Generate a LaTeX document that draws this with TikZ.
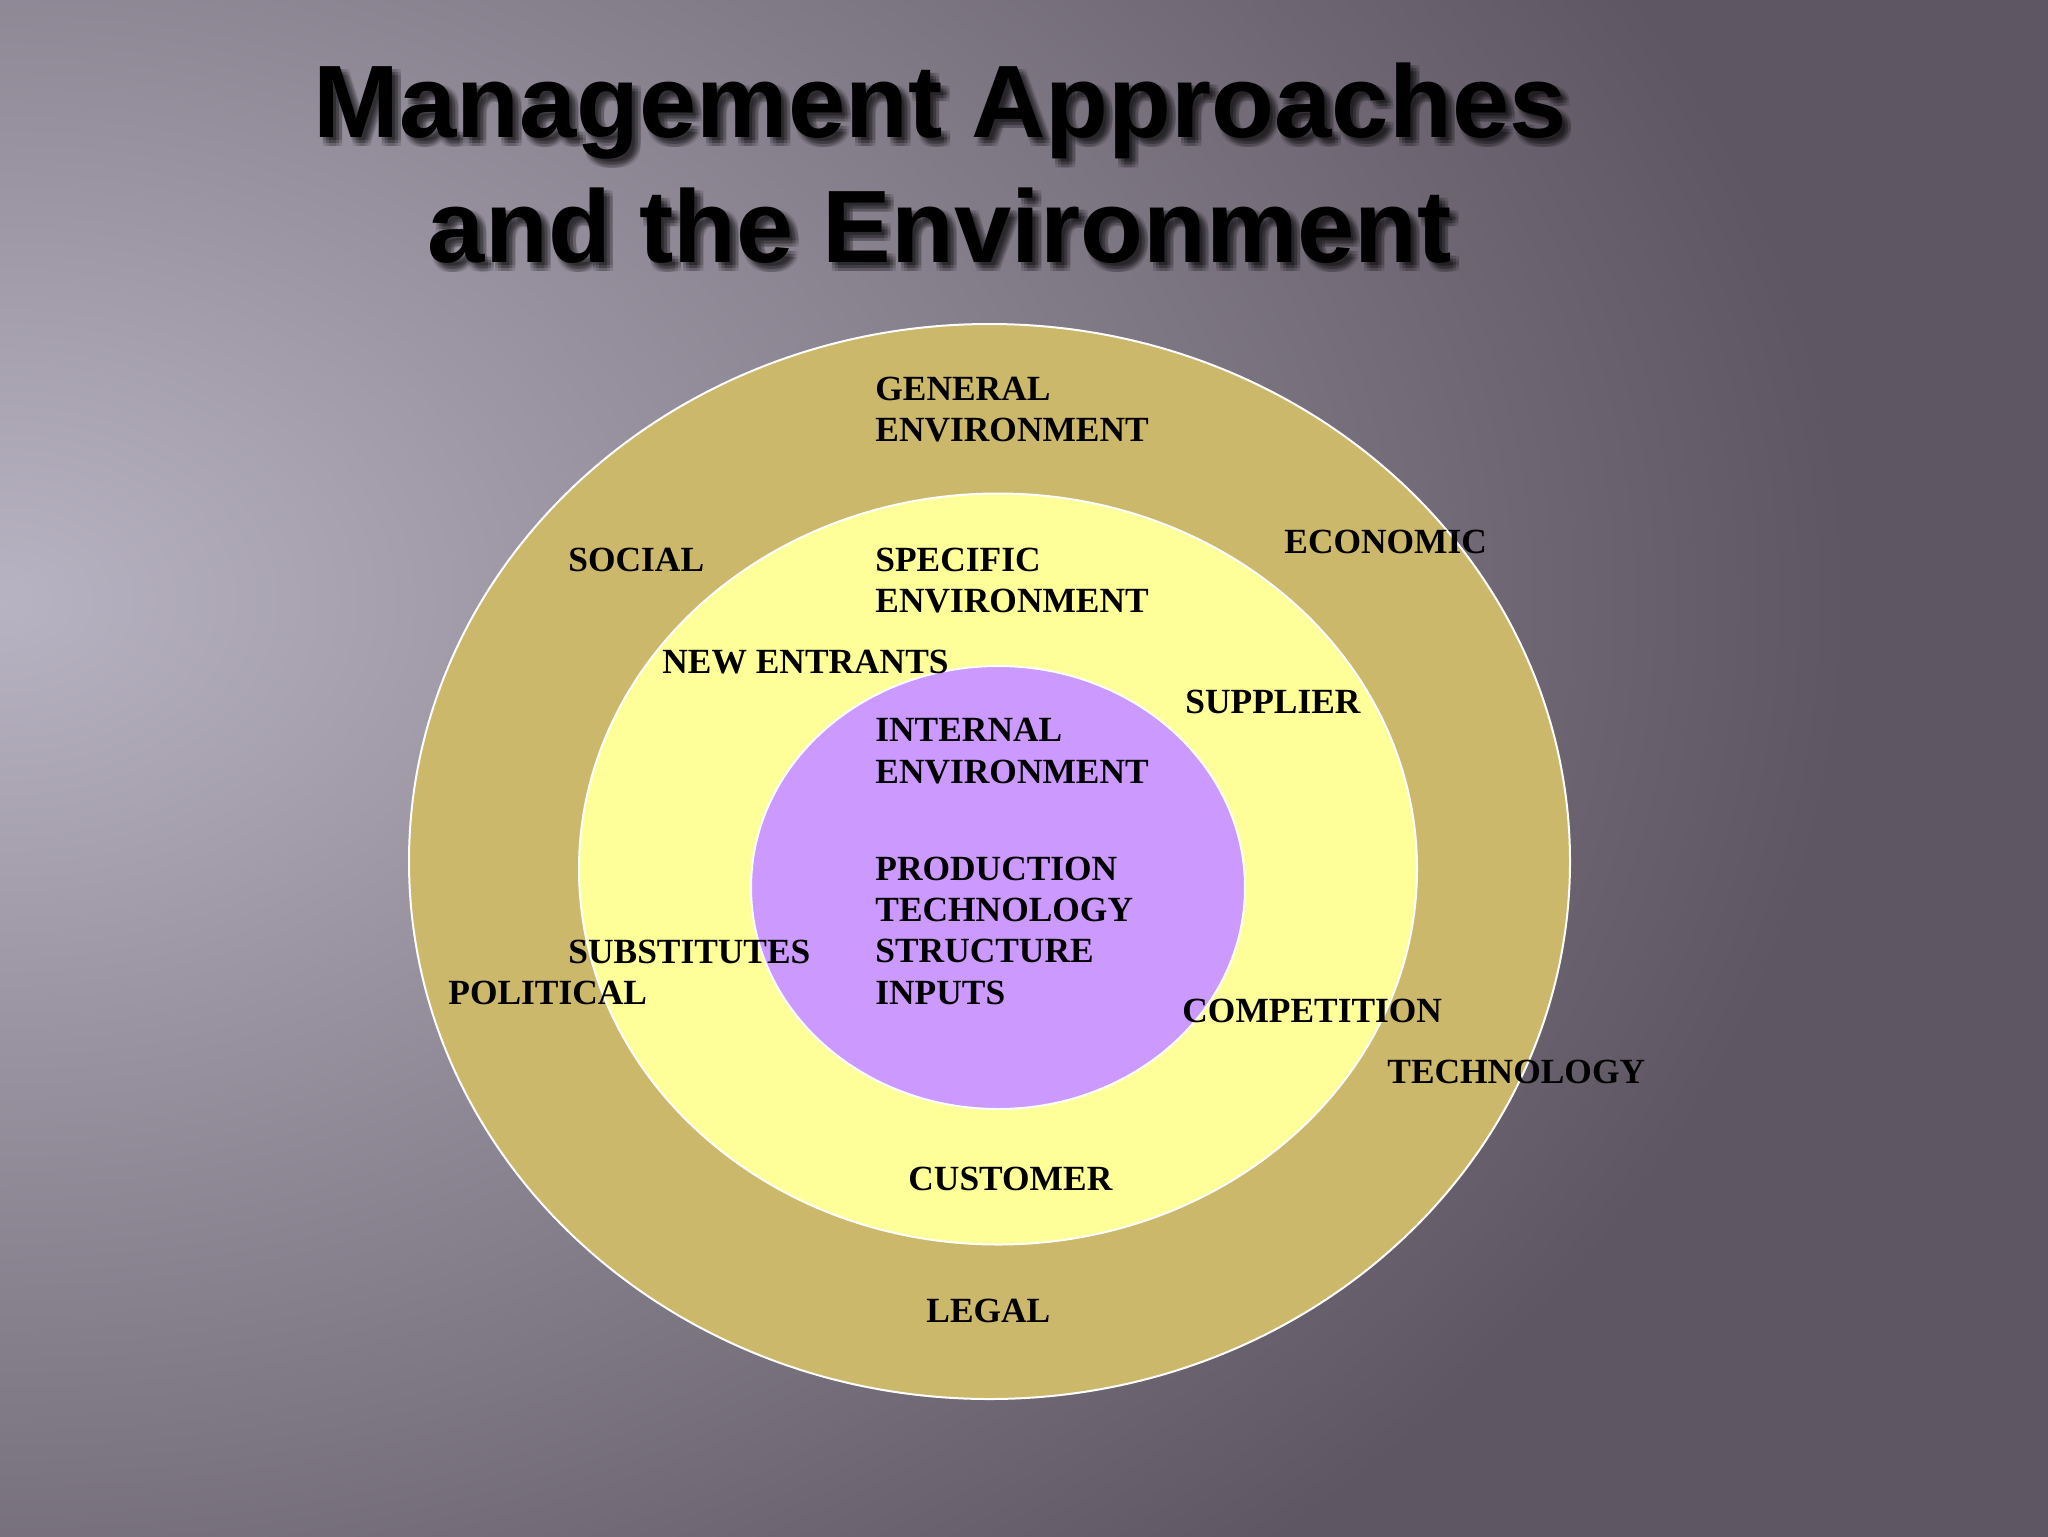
\documentclass[tikz,border=0pt]{standalone}
\usepackage{fontspec}
\setmainfont{Liberation Serif}
\newfontfamily\titlefont{Liberation Sans}
\definecolor{ringouter}{HTML}{CCB86A}
\definecolor{ringmid}{HTML}{FFFF99}
\definecolor{ringinner}{HTML}{CC99FF}
\definecolor{bglight}{HTML}{B8B3C2}
\definecolor{bgdark}{HTML}{5E5662}
\begin{document}
\begin{tikzpicture}[x=0.5pt, y=-0.5pt,
  lbl/.style={anchor=base west, inner sep=0pt, align=left, font=\bfseries\fontsize{17.7pt}{20.6pt}\selectfont, text=black},
  ttl/.style={anchor=base, inner sep=0pt, align=center, font=\titlefont\bfseries\fontsize{51.5pt}{62.5pt}\selectfont},
  ring/.style={draw=white, line width=1pt}]
\useasboundingbox (0,0) rectangle (2048,1536);
% background
\begin{scope}
\clip (-20,-20) rectangle (2068,1556);
\fill[bgdark] (-20,-20) rectangle (2068,1556);
\shade[inner color=bglight, outer color=bgdark] (0,600) ellipse [x radius=1850, y radius=1300];
\end{scope}
% title shadow
\foreach \dx in {3,6,9}{
  \foreach \dy in {3,6,9}{
    \node[ttl, text=black, opacity=0.11] (tsh\dx\dy) at (940+\dx,262+\dy) {Management Approaches\\and the Environment};
  }
}
\node[ttl, text=black] (title) at (940,262) {Management Approaches\\and the Environment};
% rings
\path[ring, fill=ringouter] (989.5,861.5) ellipse [x radius=580.5, y radius=537.5];
\path[ring, fill=ringmid] (998,869) ellipse [x radius=419, y radius=375.5];
\path[ring, fill=ringinner] (998,887.5) ellipse [x radius=247, y radius=221.5];
% labels (anchor = baseline of last line)
\node[lbl] (general) at (875,441.5) {GENERAL\\ENVIRONMENT};
\node[lbl] (social) at (568,571) {SOCIAL};
\node[lbl] (specific) at (875,612.5) {SPECIFIC\\ENVIRONMENT};
\node[lbl] (economic) at (1284,553) {ECONOMIC};
\node[lbl] (newentrants) at (662,673) {NEW ENTRANTS};
\node[lbl] (supplier) at (1185,713) {SUPPLIER};
\node[lbl] (internal) at (875,783) {INTERNAL\\ENVIRONMENT};
\node[lbl] (production) at (875,1004) {PRODUCTION\\TECHNOLOGY\\STRUCTURE\\INPUTS};
\node[lbl] (substitutes) at (568,963) {SUBSTITUTES};
\node[lbl] (political) at (448,1004) {POLITICAL};
\node[lbl] (competition) at (1182,1022) {COMPETITION};
\node[lbl] (technology) at (1387,1083) {TECHNOLOGY};
\node[lbl] (customer) at (908,1190) {CUSTOMER};
\node[lbl] (legal) at (926,1322) {LEGAL};
\end{tikzpicture}
\end{document}
